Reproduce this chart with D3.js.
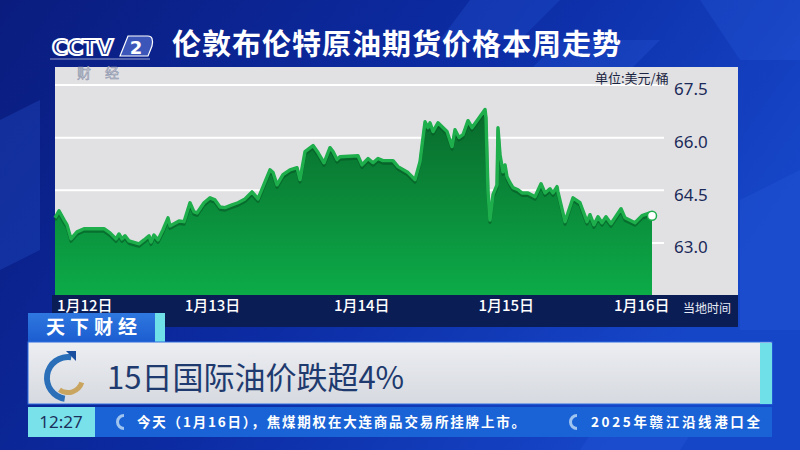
<!DOCTYPE html>
<html>
<head>
<meta charset="utf-8">
<script src="https://cdn.jsdelivr.net/npm/d3@7"></script>
<style>
  html, body { margin: 0; padding: 0; background: #0b2a9e; }
  svg { display: block; font-family: "Noto Sans CJK SC", "Noto Sans", sans-serif; }
</style>
</head>
<body>
<svg id="chart" width="800" height="450"></svg>
<script>
//
// Data
//

// position along the week (0 = first quote, 100 = last quote)
const times = [0, 0.67, 1.51, 2.01, 2.68, 3.69, 4.86, 8.21, 9.21, 10.22, 10.72, 11.22, 11.73, 12.4,
  14.07, 14.91, 15.75, 16.08, 16.58, 17.25, 18.09, 18.93, 19.26, 20.77, 21.61, 22.61, 23.28, 23.79,
  24.96, 25.96, 26.8, 27.64, 28.48, 29.65, 30.65, 31.83, 33.0, 34.0, 36.01, 36.52, 37.19, 38.19,
  39.36, 40.54, 41.04, 41.88, 43.22, 44.05, 45.06, 46.06, 46.57, 47.24, 47.74, 50.75, 51.42, 51.93,
  52.43, 53.27, 54.1, 54.94, 56.62, 57.45, 59.13, 60.3, 61.14, 61.98, 62.48, 62.81, 63.32, 64.15,
  65.66, 66.5, 67.0, 67.67, 68.34, 69.18, 69.85, 72.03, 72.19, 72.53, 72.86, 73.37, 74.04, 74.2,
  74.54, 75.04, 75.38, 75.71, 76.21, 76.72, 77.55, 78.22, 79.23, 80.4, 81.41, 82.08, 82.91, 83.42,
  84.09, 84.25, 85.43, 86.77, 87.94, 89.11, 89.61, 90.28, 90.95, 91.62, 92.29, 93.13, 94.81, 95.48,
  97.15, 98.32, 99.66, 100];

// Brent futures price, USD / barrel
const prices = [63.70, 63.90, 63.64, 63.50, 63.10, 63.30, 63.39, 63.39, 63.27, 63.10, 63.24, 63.10, 63.19, 63.04,
  62.96, 63.07, 63.19, 63.01, 63.21, 63.07, 63.36, 63.70, 63.47, 63.61, 63.59, 64.13, 63.87, 63.84,
  64.13, 64.27, 64.21, 64.01, 63.99, 64.07, 64.13, 64.24, 64.44, 64.24, 65.07, 64.99, 64.64, 64.93,
  65.07, 65.13, 64.79, 65.59, 65.76, 65.56, 65.27, 65.70, 65.59, 65.36, 65.44, 65.47, 65.21, 65.30,
  65.39, 65.27, 65.39, 65.33, 65.33, 65.16, 64.99, 64.79, 65.30, 66.44, 66.27, 66.41, 66.16, 66.41,
  66.16, 65.73, 66.21, 65.99, 66.07, 66.47, 66.27, 66.79, 66.56, 64.44, 63.64, 64.36, 64.64, 66.27,
  65.50, 65.01, 65.21, 64.87, 64.70, 64.56, 64.50, 64.41, 64.41, 64.30, 64.67, 64.41, 64.53, 64.41,
  64.59, 64.44, 63.59, 64.27, 64.13, 63.59, 63.79, 63.50, 63.73, 63.56, 63.73, 63.53, 63.96, 63.70,
  63.56, 63.76, 63.84, 63.76];

const dayLabels = ['1月12日', '1月13日', '1月14日', '1月15日', '1月16日'];
const dayTicks = [4.9, 26.3, 51.3, 75.5, 98.2];
const yTicks = [63.0, 64.5, 66.0, 67.5];

const title = '伦敦布伦特原油期货价格本周走势';
const unitLabel = '单位:美元/桶';
const timeNote = '当地时间';
const headline = '15日国际油价跌超4%';
const ticker1 = '今天（1月16日），焦煤期权在大连商品交易所挂牌上市。';
const ticker2 = '2025年赣江沿线港口全';

const data = times.map((t, i) => ({ t, v: prices[i] }));

//
// Set-up
//

const svg = d3.select('#chart');
const defs = svg.append('defs');

const bgGrad = defs.append('linearGradient').attr('id', 'bgGrad')
  .attr('x1', 0).attr('y1', 0).attr('x2', 1).attr('y2', 0.4);
bgGrad.append('stop').attr('offset', '0%').attr('stop-color', '#0a1c7e');
bgGrad.append('stop').attr('offset', '55%').attr('stop-color', '#0c2ca4');
bgGrad.append('stop').attr('offset', '100%').attr('stop-color', '#1646c8');

const areaGrad = defs.append('linearGradient').attr('id', 'areaGrad')
  .attr('x1', 0).attr('y1', 0).attr('x2', 0).attr('y2', 1);
areaGrad.append('stop').attr('offset', '0%').attr('stop-color', '#096a2c');
areaGrad.append('stop').attr('offset', '100%').attr('stop-color', '#0cab48');

const barGrad = defs.append('linearGradient').attr('id', 'barGrad')
  .attr('x1', 0).attr('y1', 0).attr('x2', 0).attr('y2', 1);
barGrad.append('stop').attr('offset', '0%').attr('stop-color', '#eceef2');
barGrad.append('stop').attr('offset', '100%').attr('stop-color', '#d6d9df');

const tagGrad = defs.append('linearGradient').attr('id', 'tagGrad')
  .attr('x1', 0).attr('y1', 0).attr('x2', 0).attr('y2', 1);
tagGrad.append('stop').attr('offset', '0%').attr('stop-color', '#2f78e0');
tagGrad.append('stop').attr('offset', '100%').attr('stop-color', '#1b5cd0');

//
// Background
//

svg.append('rect').attr('width', 800).attr('height', 450).attr('fill', 'url(#bgGrad)');

// faint cube shapes
const cubes = [
  [[470, 0], [560, 0], [520, 40], [440, 40]],
  [[560, 40], [660, 40], [620, 80], [520, 80]],
  [[700, 0], [800, 0], [800, 60], [740, 60]],
  [[0, 120], [40, 100], [40, 250], [0, 270]],
  [[740, 200], [800, 170], [800, 330], [740, 330]],
  [[600, 420], [700, 420], [680, 450], [580, 450]]
];
svg.append('g').selectAll('polygon')
  .data(cubes)
  .enter().append('polygon')
    .attr('points', d => d.map(p => p.join(',')).join(' '))
    .attr('fill', '#2a5ee0')
    .attr('opacity', 0.25);

//
// Header
//

const logo = svg.append('g').attr('class', 'logo');
logo.append('text')
  .attr('x', 52).attr('y', 55)
  .attr('font-family', 'DejaVu Sans, sans-serif')
  .attr('font-weight', 'bold')
  .attr('font-size', 22)
  .attr('letter-spacing', -1)
  .attr('fill', 'none')
  .attr('stroke', '#ffffff')
  .attr('stroke-width', 2.2)
  .text('CCTV');
logo.append('path')
  .attr('d', 'M120,56 L128,36 L148,36 Q154,36 152,46 L148,56 Z')
  .attr('fill', '#3b56b8')
  .attr('stroke', '#ffffff')
  .attr('stroke-width', 1.2);
logo.append('text')
  .attr('x', 136).attr('y', 54)
  .attr('text-anchor', 'middle')
  .attr('font-family', 'DejaVu Sans, sans-serif')
  .attr('font-weight', 'bold')
  .attr('font-size', 18)
  .attr('fill', '#ffffff')
  .text('2');
logo.append('line')
  .attr('x1', 50).attr('x2', 150).attr('y1', 59).attr('y2', 59)
  .attr('stroke', '#ffffff').attr('stroke-width', 1).attr('opacity', 0.6);

svg.append('text')
  .attr('x', 172).attr('y', 55)
  .attr('font-size', 29)
  .attr('font-weight', 'bold')
  .attr('letter-spacing', 1)
  .attr('fill', '#ffffff')
  .text(title);

//
// Chart panel
//

const panel = { left: 55, right: 738, top: 67, bottom: 295 };

svg.append('rect')
  .attr('x', panel.left).attr('y', panel.top)
  .attr('width', panel.right - panel.left)
  .attr('height', panel.bottom - panel.top)
  .attr('fill', '#e1e1e4');

// date band
svg.append('rect')
  .attr('x', 52).attr('y', panel.bottom)
  .attr('width', panel.right - 52).attr('height', 32)
  .attr('fill', '#0b1d55');

// "财 经" under the logo, faded over the panel top
svg.append('text')
  .attr('x', 77).attr('y', 78)
  .attr('font-size', 14)
  .attr('letter-spacing', 14)
  .attr('fill', '#c9ccd6')
  .attr('stroke', '#8890a8')
  .attr('stroke-width', 0.5)
  .text('财经');

//
// Scales & axes
//

const xScale = d3.scaleLinear()
  .domain([0, 100])
  .range([55, 652]);

const yScale = d3.scaleLinear()
  .domain([61.5, 68])
  .range([panel.bottom, panel.top]);

const gridRight = 664;

const yAxis = d3.axisRight(yScale)
  .tickValues(yTicks)
  .tickFormat(d3.format('.1f'))
  .tickSizeInner(-(gridRight - panel.left))
  .tickSizeOuter(0)
  .tickPadding(10);

const yAxisG = svg.append('g')
  .attr('class', 'y axis')
  .attr('transform', `translate(${gridRight},0)`)
  .call(yAxis);
yAxisG.select('.domain').remove();
yAxisG.selectAll('line').attr('stroke', '#ffffff').attr('stroke-width', 2);
yAxisG.selectAll('text')
  .attr('y', 5)
  .attr('font-size', 17)
  .attr('font-family', 'Noto Sans, sans-serif')
  .attr('fill', '#1b2a58');

svg.append('text')
  .attr('x', 595).attr('y', 83)
  .attr('font-size', 13)
  .attr('fill', '#1b2440')
  .text(unitLabel);

const xAxis = d3.axisBottom(xScale)
  .tickValues(dayTicks)
  .tickFormat((d, i) => dayLabels[i])
  .tickSize(0)
  .tickPadding(5);

const xAxisG = svg.append('g')
  .attr('class', 'x axis')
  .attr('transform', `translate(0,${panel.bottom})`)
  .call(xAxis);
xAxisG.select('.domain').remove();
xAxisG.selectAll('text')
  .attr('font-size', 15)
  .attr('font-weight', 500)
  .attr('font-family', 'Noto Sans CJK SC, sans-serif')
  .attr('fill', '#ffffff');

svg.append('text')
  .attr('x', 683).attr('y', 313)
  .attr('font-size', 12)
  .attr('fill', '#e8ecf6')
  .text(timeNote);

//
// Area & line
//

const area = d3.area()
  .x(d => xScale(d.t))
  .y0(panel.bottom)
  .y1(d => yScale(d.v));

const line = d3.line()
  .x(d => xScale(d.t))
  .y(d => yScale(d.v));

svg.append('path')
  .datum(data)
  .attr('d', area)
  .attr('fill', 'url(#areaGrad)');

// dark shadow under the line
svg.append('path')
  .datum(data)
  .attr('d', line)
  .attr('transform', 'translate(0,2.5)')
  .attr('fill', 'none')
  .attr('stroke', '#065222')
  .attr('stroke-width', 3)
  .attr('opacity', 0.55)
  .attr('stroke-linejoin', 'round');

svg.append('path')
  .datum(data)
  .attr('d', line)
  .attr('fill', 'none')
  .attr('stroke', '#1eae4c')
  .attr('stroke-width', 3.4)
  .attr('stroke-linejoin', 'round');

const last = data[data.length - 1];
svg.append('circle')
  .attr('cx', xScale(last.t))
  .attr('cy', yScale(last.v))
  .attr('r', 4.5)
  .attr('fill', '#ffffff')
  .attr('stroke', '#1eae4c')
  .attr('stroke-width', 1.5);

//
// Lower third
//

const tag = svg.append('g');
tag.append('rect').attr('x', 28).attr('y', 313).attr('width', 137).attr('height', 30).attr('fill', 'url(#tagGrad)');
tag.append('rect').attr('x', 155).attr('y', 313).attr('width', 10).attr('height', 30).attr('fill', '#6fe0e8');
tag.append('text')
  .attr('x', 46).attr('y', 334)
  .attr('font-size', 19)
  .attr('font-weight', 'bold')
  .attr('letter-spacing', 5)
  .attr('fill', '#ffffff')
  .text('天下财经');

const bar = svg.append('g');
bar.append('rect').attr('x', 28).attr('y', 342).attr('width', 744).attr('height', 62)
  .attr('fill', 'url(#barGrad)').attr('stroke', '#2f6ee0').attr('stroke-width', 1);
bar.append('rect').attr('x', 760).attr('y', 343).attr('width', 12).attr('height', 61).attr('fill', '#6fe0e8');

// swirl emblem
const arc = d3.arc();
const emblem = bar.append('g').attr('transform', 'translate(68,378)');
emblem.append('path')
  .attr('d', arc({ innerRadius: 18, outerRadius: 24, startAngle: -Math.PI * 0.95, endAngle: Math.PI * 0.05 }))
  .attr('fill', '#2a6fb8');
emblem.append('path')
  .attr('d', arc({ innerRadius: 12, outerRadius: 17, startAngle: Math.PI * 0.6, endAngle: Math.PI * 1.2 }))
  .attr('fill', '#c9a560');
emblem.append('path')
  .attr('d', 'M-2,-27 L8,-27 L8,-17 Z')
  .attr('fill', '#1a4fa0');

bar.append('text')
  .attr('x', 107).attr('y', 389)
  .attr('font-size', 31)
  .attr('fill', '#1e3a6e')
  .text(headline);

const ticker = svg.append('g');
ticker.append('rect').attr('x', 28).attr('y', 407).attr('width', 744).attr('height', 30).attr('fill', '#1a63d6');
ticker.append('rect').attr('x', 28).attr('y', 407).attr('width', 67).attr('height', 30).attr('fill', '#79e1ea');
ticker.append('text')
  .attr('x', 61).attr('y', 428)
  .attr('text-anchor', 'middle')
  .attr('font-size', 17)
  .attr('font-family', 'Noto Sans, sans-serif')
  .attr('fill', '#1b2f5c')
  .text('12:27');

[[124, 422], [577, 422]].forEach(p => {
  ticker.append('path')
    .attr('d', arc({ innerRadius: 5, outerRadius: 8, startAngle: Math.PI, endAngle: Math.PI * 2 }))
    .attr('transform', `translate(${p[0]},${p[1]})`)
    .attr('fill', '#9fc4f0');
});

ticker.append('text')
  .attr('x', 137).attr('y', 427)
  .attr('font-size', 13.5)
  .attr('font-weight', 'bold')
  .attr('textLength', 388)
  .attr('lengthAdjust', 'spacing')
  .attr('fill', '#ffffff')
  .text(ticker1);

ticker.append('text')
  .attr('x', 591).attr('y', 427)
  .attr('font-size', 13.5)
  .attr('font-weight', 'bold')
  .attr('textLength', 169)
  .attr('lengthAdjust', 'spacing')
  .attr('fill', '#ffffff')
  .text(ticker2);
</script>
</body>
</html>
